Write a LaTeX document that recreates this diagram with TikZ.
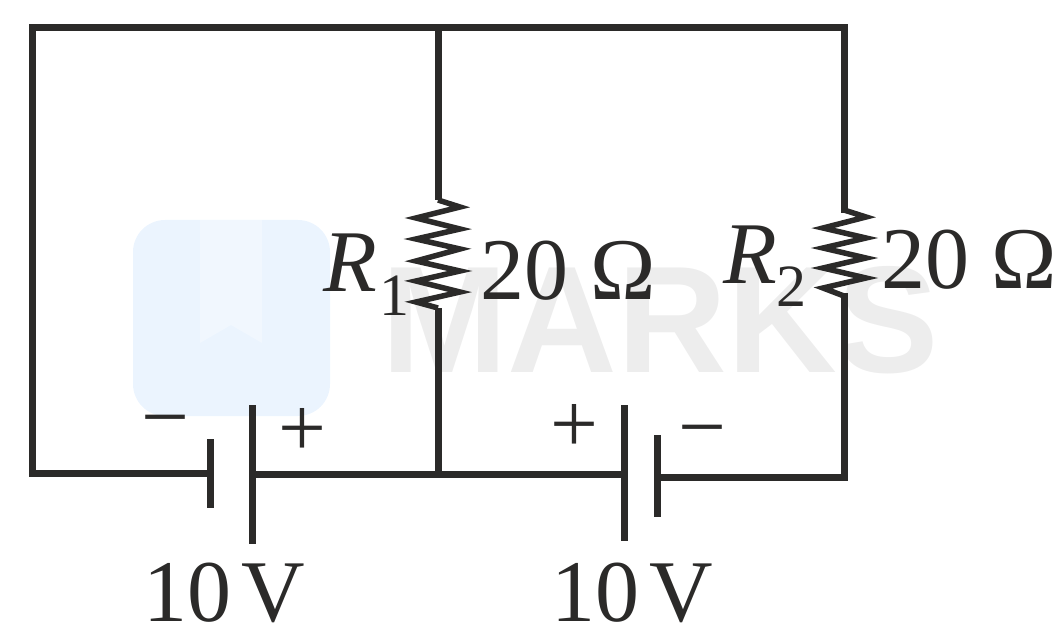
\documentclass[tikz,border=0pt]{standalone}
\usepackage{fontspec}
\setmainfont{Liberation Serif}
\newfontfamily\wmfont{Liberation Sans}
\definecolor{ink}{HTML}{2B2A29}
\definecolor{wmblue}{HTML}{EBF4FE}
\definecolor{wmgrey}{HTML}{EDEDED}
\tikzset{
  wire/.style={color=ink,line width=7pt},
  plate/.style={color=ink,line width=7pt},
  zigzag/.style={color=ink,line width=5.5pt,miter limit=10},
  bigtxt/.style={inner sep=0pt,anchor=base west,text=ink,font=\fontsize{88}{88}\selectfont},
  subtxt/.style={inner sep=0pt,anchor=base west,text=ink,font=\fontsize{60}{60}\selectfont},
  signtxt/.style={inner sep=0pt,anchor=base,text=ink,font=\fontsize{85}{85}\selectfont},
}
\begin{document}
\begin{tikzpicture}[x=1pt,y=-1pt]
\useasboundingbox (0,0) rectangle (1064,636);
% watermark
\fill[color=wmblue,rounded corners=32pt] (133,220) rectangle (330,416);
\fill[color=white,opacity=0.3] (200,220)--(262,220)--(262,343)--(231,325)--(200,343)--cycle;
\node[inner sep=0pt,anchor=base west,text=wmgrey,font=\wmfont\bfseries\fontsize{152}{152}\selectfont] (wm) at (381,372) {MARKS};
% corners and junctions
\coordinate (tl) at (32,28);
\coordinate (tm) at (438,28);
\coordinate (tr) at (844,28);
\coordinate (bl) at (32,473);
\coordinate (bm) at (438,474);
\coordinate (br) at (844,477);
\coordinate (r1a) at (438,200);
\coordinate (r1b) at (438,308);
\coordinate (r2a) at (844,210);
\coordinate (r2b) at (844,296);
\coordinate (e1s) at (210,473);
\coordinate (e1l) at (252,474);
\coordinate (e2l) at (624,474);
\coordinate (e2s) at (657,477);
% wires
\draw[wire] (r1a)--(tm);
\draw[wire,line cap=rect] (e1s)--(bl)--(tl)--(tr)--(r2a);
\draw[wire,line cap=rect] (r2b)--(br)--(e2s);
\draw[wire] (r1b)--(bm);
\draw[wire] (e1l)--(bm)--(e2l);
% resistors
\draw[zigzag] (r1a)--(460,207)--(416,218)--(460,229)--(416,239)--(460,249)--(416,261)--(460,271)--(416,281)--(460,292)--(416,302)--(r1b);
\draw[zigzag] (r2a)--(866,217)--(823,228)--(866,238)--(823,248)--(866,258)--(823,268)--(866,278)--(823,288)--(r2b);
% cells
\draw[plate] (210,439)--(e1s)--(210,508);
\draw[plate] (252,405)--(e1l)--(252,544);
\draw[plate] (624,405)--(e2l)--(624,541);
\draw[plate] (657,435)--(e2s)--(657,517);
% labels
\node[bigtxt] (r1name) at (323,291) {\textit{R}};
\node[subtxt] (r1sub) at (379,315) {1};
\node[bigtxt] (r1val) at (480,299) {20 Ω};
\node[bigtxt] (r2name) at (723,283) {\textit{R}};
\node[subtxt] (r2sub) at (776,306) {2};
\node[bigtxt] (r2val) at (881,288) {20 Ω};
\node[bigtxt] (e1val) at (143,621) {10\hspace{10pt}V};
\node[bigtxt] (e2val) at (551,621) {10\hspace{10pt}V};
\node[signtxt] (e1m) at (165,445) {−};
\node[signtxt] (e1p) at (302,456) {+};
\node[signtxt] (e2p) at (574,452) {+};
\node[signtxt] (e2m) at (702,455) {−};
\end{tikzpicture}
\end{document}
